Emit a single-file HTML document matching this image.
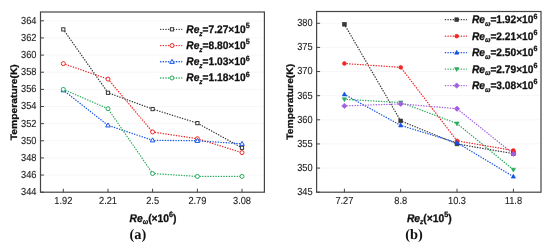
<!DOCTYPE html>
<html><head><meta charset="utf-8"><title>Temperature vs Re</title>
<style>
html,body{margin:0;padding:0;background:#fff;}
body{width:550px;height:251px;overflow:hidden;}
svg{display:block;}
text{text-rendering:geometricPrecision;}
.tk{font-family:"Liberation Sans",Arial,sans-serif;font-size:10.2px;fill:#1a1a1a;stroke:#1a1a1a;stroke-width:0.1px;}
.lg{font-family:"Liberation Sans",Arial,sans-serif;font-size:10.9px;font-weight:bold;fill:#111;stroke:#111;stroke-width:0.3px;}
.lb{font-family:"Liberation Sans",Arial,sans-serif;font-size:11.1px;font-weight:bold;fill:#111;stroke:#111;stroke-width:0.3px;}
.lby{font-family:"Liberation Sans",Arial,sans-serif;font-size:10.3px;font-weight:bold;fill:#111;stroke:#111;stroke-width:0.3px;}
.cap{font-family:"Liberation Serif","Times New Roman",serif;font-size:14.4px;font-weight:bold;fill:#111;}
</style></head>
<body>
<svg width="550" height="251" viewBox="0 0 550 251">
<rect width="550" height="251" fill="#fff"/>
<line x1="40.50" y1="175.06" x2="264.40" y2="175.06" stroke="#f5f5f5" stroke-width="0.8"/>
<line x1="40.50" y1="157.92" x2="264.40" y2="157.92" stroke="#f5f5f5" stroke-width="0.8"/>
<line x1="40.50" y1="140.78" x2="264.40" y2="140.78" stroke="#f5f5f5" stroke-width="0.8"/>
<line x1="40.50" y1="123.64" x2="264.40" y2="123.64" stroke="#f5f5f5" stroke-width="0.8"/>
<line x1="40.50" y1="106.50" x2="264.40" y2="106.50" stroke="#f5f5f5" stroke-width="0.8"/>
<line x1="40.50" y1="89.36" x2="264.40" y2="89.36" stroke="#f5f5f5" stroke-width="0.8"/>
<line x1="40.50" y1="72.22" x2="264.40" y2="72.22" stroke="#f5f5f5" stroke-width="0.8"/>
<line x1="40.50" y1="55.08" x2="264.40" y2="55.08" stroke="#f5f5f5" stroke-width="0.8"/>
<line x1="40.50" y1="37.94" x2="264.40" y2="37.94" stroke="#f5f5f5" stroke-width="0.8"/>
<line x1="40.50" y1="20.80" x2="264.40" y2="20.80" stroke="#f5f5f5" stroke-width="0.8"/>
<line x1="40.50" y1="192.20" x2="44.00" y2="192.20" stroke="#444444" stroke-width="1"/>
<text transform="translate(36.50,195.10) scale(0.91,1)" class="tk" text-anchor="end">344</text>
<line x1="40.50" y1="175.06" x2="44.00" y2="175.06" stroke="#444444" stroke-width="1"/>
<text transform="translate(36.50,177.96) scale(0.91,1)" class="tk" text-anchor="end">346</text>
<line x1="40.50" y1="157.92" x2="44.00" y2="157.92" stroke="#444444" stroke-width="1"/>
<text transform="translate(36.50,160.82) scale(0.91,1)" class="tk" text-anchor="end">348</text>
<line x1="40.50" y1="140.78" x2="44.00" y2="140.78" stroke="#444444" stroke-width="1"/>
<text transform="translate(36.50,143.68) scale(0.91,1)" class="tk" text-anchor="end">350</text>
<line x1="40.50" y1="123.64" x2="44.00" y2="123.64" stroke="#444444" stroke-width="1"/>
<text transform="translate(36.50,126.54) scale(0.91,1)" class="tk" text-anchor="end">352</text>
<line x1="40.50" y1="106.50" x2="44.00" y2="106.50" stroke="#444444" stroke-width="1"/>
<text transform="translate(36.50,109.40) scale(0.91,1)" class="tk" text-anchor="end">354</text>
<line x1="40.50" y1="89.36" x2="44.00" y2="89.36" stroke="#444444" stroke-width="1"/>
<text transform="translate(36.50,92.26) scale(0.91,1)" class="tk" text-anchor="end">356</text>
<line x1="40.50" y1="72.22" x2="44.00" y2="72.22" stroke="#444444" stroke-width="1"/>
<text transform="translate(36.50,75.12) scale(0.91,1)" class="tk" text-anchor="end">358</text>
<line x1="40.50" y1="55.08" x2="44.00" y2="55.08" stroke="#444444" stroke-width="1"/>
<text transform="translate(36.50,57.98) scale(0.91,1)" class="tk" text-anchor="end">360</text>
<line x1="40.50" y1="37.94" x2="44.00" y2="37.94" stroke="#444444" stroke-width="1"/>
<text transform="translate(36.50,40.84) scale(0.91,1)" class="tk" text-anchor="end">362</text>
<line x1="40.50" y1="20.80" x2="44.00" y2="20.80" stroke="#444444" stroke-width="1"/>
<text transform="translate(36.50,23.70) scale(0.91,1)" class="tk" text-anchor="end">364</text>
<line x1="63.30" y1="192.20" x2="63.30" y2="188.70" stroke="#444444" stroke-width="1"/>
<text transform="translate(63.30,203.6) scale(0.91,1)" class="tk" text-anchor="middle">1.92</text>
<line x1="108.00" y1="192.20" x2="108.00" y2="188.70" stroke="#444444" stroke-width="1"/>
<text transform="translate(108.00,203.6) scale(0.91,1)" class="tk" text-anchor="middle">2.21</text>
<line x1="152.60" y1="192.20" x2="152.60" y2="188.70" stroke="#444444" stroke-width="1"/>
<text transform="translate(152.60,203.6) scale(0.91,1)" class="tk" text-anchor="middle">2.5</text>
<line x1="197.40" y1="192.20" x2="197.40" y2="188.70" stroke="#444444" stroke-width="1"/>
<text transform="translate(197.40,203.6) scale(0.91,1)" class="tk" text-anchor="middle">2.79</text>
<line x1="242.00" y1="192.20" x2="242.00" y2="188.70" stroke="#444444" stroke-width="1"/>
<text transform="translate(242.00,203.6) scale(0.91,1)" class="tk" text-anchor="middle">3.08</text>
<polyline points="63.30,29.37 108.00,92.79 152.60,109.07 197.40,123.13 242.00,147.81" fill="none" stroke="#383838" stroke-width="1.3" stroke-linecap="round" stroke-dasharray="0.3 2.35"/>
<polyline points="63.30,63.65 108.00,79.08 152.60,131.95 197.40,138.72 242.00,152.61" fill="none" stroke="#f22525" stroke-width="1.3" stroke-linecap="round" stroke-dasharray="0.3 2.35"/>
<polyline points="63.30,90.22 108.00,125.35 152.60,140.27 197.40,140.78 242.00,143.78" fill="none" stroke="#1452e6" stroke-width="1.3" stroke-linecap="round" stroke-dasharray="0.3 2.35"/>
<polyline points="63.30,89.36 108.00,108.73 152.60,173.52 197.40,176.43 242.00,176.43" fill="none" stroke="#2aab5c" stroke-width="1.3" stroke-linecap="round" stroke-dasharray="0.3 2.35"/>
<rect x="61.70" y="27.77" width="3.20" height="3.20" fill="#fff" stroke="#383838" stroke-width="1.0"/>
<rect x="106.40" y="91.19" width="3.20" height="3.20" fill="#fff" stroke="#383838" stroke-width="1.0"/>
<rect x="151.00" y="107.47" width="3.20" height="3.20" fill="#fff" stroke="#383838" stroke-width="1.0"/>
<rect x="195.80" y="121.53" width="3.20" height="3.20" fill="#fff" stroke="#383838" stroke-width="1.0"/>
<rect x="240.40" y="146.21" width="3.20" height="3.20" fill="#fff" stroke="#383838" stroke-width="1.0"/>
<circle cx="63.30" cy="63.65" r="2.00" fill="#fff" stroke="#f22525" stroke-width="1.0"/>
<circle cx="108.00" cy="79.08" r="2.00" fill="#fff" stroke="#f22525" stroke-width="1.0"/>
<circle cx="152.60" cy="131.95" r="2.00" fill="#fff" stroke="#f22525" stroke-width="1.0"/>
<circle cx="197.40" cy="138.72" r="2.00" fill="#fff" stroke="#f22525" stroke-width="1.0"/>
<circle cx="242.00" cy="152.61" r="2.00" fill="#fff" stroke="#f22525" stroke-width="1.0"/>
<path d="M63.30,87.82L65.60,91.82L61.00,91.82Z" fill="#fff" stroke="#1452e6" stroke-width="1.0"/>
<path d="M108.00,122.95L110.30,126.95L105.70,126.95Z" fill="#fff" stroke="#1452e6" stroke-width="1.0"/>
<path d="M152.60,137.87L154.90,141.87L150.30,141.87Z" fill="#fff" stroke="#1452e6" stroke-width="1.0"/>
<path d="M197.40,138.38L199.70,142.38L195.10,142.38Z" fill="#fff" stroke="#1452e6" stroke-width="1.0"/>
<path d="M242.00,141.38L244.30,145.38L239.70,145.38Z" fill="#fff" stroke="#1452e6" stroke-width="1.0"/>
<circle cx="63.30" cy="89.36" r="2.00" fill="#fff" stroke="#2aab5c" stroke-width="1.0"/>
<circle cx="108.00" cy="108.73" r="2.00" fill="#fff" stroke="#2aab5c" stroke-width="1.0"/>
<circle cx="152.60" cy="173.52" r="2.00" fill="#fff" stroke="#2aab5c" stroke-width="1.0"/>
<circle cx="197.40" cy="176.43" r="2.00" fill="#fff" stroke="#2aab5c" stroke-width="1.0"/>
<circle cx="242.00" cy="176.43" r="2.00" fill="#fff" stroke="#2aab5c" stroke-width="1.0"/>
<rect x="40.50" y="12.00" width="223.90" height="180.20" fill="none" stroke="#444444" stroke-width="1.2"/>
<line x1="160.5" y1="29.30" x2="181.8" y2="29.30" stroke="#383838" stroke-width="1.3" stroke-linecap="round" stroke-dasharray="0.3 2.35"/>
<rect x="170.40" y="27.70" width="3.20" height="3.20" fill="#fff" stroke="#383838" stroke-width="1.0"/>
<text transform="translate(186.3,32.70) scale(0.935,1)" class="lg"><tspan font-style="italic">Re</tspan><tspan font-style="italic" font-size="7.0" dy="2.9">z</tspan><tspan dy="-2.9">=7.27×10</tspan><tspan font-size="7.6" dy="-4.6">5</tspan></text>
<line x1="160.5" y1="45.53" x2="181.8" y2="45.53" stroke="#f22525" stroke-width="1.3" stroke-linecap="round" stroke-dasharray="0.3 2.35"/>
<circle cx="172.00" cy="45.53" r="2.00" fill="#fff" stroke="#f22525" stroke-width="1.0"/>
<text transform="translate(186.3,48.93) scale(0.935,1)" class="lg"><tspan font-style="italic">Re</tspan><tspan font-style="italic" font-size="7.0" dy="2.9">z</tspan><tspan dy="-2.9">=8.80×10</tspan><tspan font-size="7.6" dy="-4.6">5</tspan></text>
<line x1="160.5" y1="61.76" x2="181.8" y2="61.76" stroke="#1452e6" stroke-width="1.3" stroke-linecap="round" stroke-dasharray="0.3 2.35"/>
<path d="M172.00,59.36L174.30,63.36L169.70,63.36Z" fill="#fff" stroke="#1452e6" stroke-width="1.0"/>
<text transform="translate(186.3,65.16) scale(0.935,1)" class="lg"><tspan font-style="italic">Re</tspan><tspan font-style="italic" font-size="7.0" dy="2.9">z</tspan><tspan dy="-2.9">=1.03×10</tspan><tspan font-size="7.6" dy="-4.6">6</tspan></text>
<line x1="160.5" y1="77.99" x2="181.8" y2="77.99" stroke="#2aab5c" stroke-width="1.3" stroke-linecap="round" stroke-dasharray="0.3 2.35"/>
<circle cx="172.00" cy="77.99" r="2.00" fill="#fff" stroke="#2aab5c" stroke-width="1.0"/>
<text transform="translate(186.3,81.39) scale(0.935,1)" class="lg"><tspan font-style="italic">Re</tspan><tspan font-style="italic" font-size="7.0" dy="2.9">z</tspan><tspan dy="-2.9">=1.18×10</tspan><tspan font-size="7.6" dy="-4.6">6</tspan></text>
<text transform="translate(16.9,102.2) scale(0.91,1) rotate(-90)" class="lby" text-anchor="middle">Temperature(K)</text>
<text transform="translate(129.5,221.8) scale(0.93,1)" class="lb"><tspan font-style="italic">Re</tspan><tspan font-style="italic" font-size="7.0" dy="2.5">ω</tspan><tspan dy="-2.5">(×10</tspan><tspan font-size="7.8" dy="-4.8">6</tspan><tspan dy="4.8">)</tspan></text>
<text x="137.8" y="239.4" class="cap" text-anchor="middle">(a)</text>
<line x1="316.60" y1="168.07" x2="541.00" y2="168.07" stroke="#f5f5f5" stroke-width="0.8"/>
<line x1="316.60" y1="143.94" x2="541.00" y2="143.94" stroke="#f5f5f5" stroke-width="0.8"/>
<line x1="316.60" y1="119.81" x2="541.00" y2="119.81" stroke="#f5f5f5" stroke-width="0.8"/>
<line x1="316.60" y1="95.68" x2="541.00" y2="95.68" stroke="#f5f5f5" stroke-width="0.8"/>
<line x1="316.60" y1="71.55" x2="541.00" y2="71.55" stroke="#f5f5f5" stroke-width="0.8"/>
<line x1="316.60" y1="47.42" x2="541.00" y2="47.42" stroke="#f5f5f5" stroke-width="0.8"/>
<line x1="316.60" y1="23.29" x2="541.00" y2="23.29" stroke="#f5f5f5" stroke-width="0.8"/>
<line x1="316.60" y1="192.20" x2="320.10" y2="192.20" stroke="#444444" stroke-width="1"/>
<text transform="translate(312.60,195.10) scale(0.91,1)" class="tk" text-anchor="end">345</text>
<line x1="316.60" y1="168.07" x2="320.10" y2="168.07" stroke="#444444" stroke-width="1"/>
<text transform="translate(312.60,170.97) scale(0.91,1)" class="tk" text-anchor="end">350</text>
<line x1="316.60" y1="143.94" x2="320.10" y2="143.94" stroke="#444444" stroke-width="1"/>
<text transform="translate(312.60,146.84) scale(0.91,1)" class="tk" text-anchor="end">355</text>
<line x1="316.60" y1="119.81" x2="320.10" y2="119.81" stroke="#444444" stroke-width="1"/>
<text transform="translate(312.60,122.71) scale(0.91,1)" class="tk" text-anchor="end">360</text>
<line x1="316.60" y1="95.68" x2="320.10" y2="95.68" stroke="#444444" stroke-width="1"/>
<text transform="translate(312.60,98.58) scale(0.91,1)" class="tk" text-anchor="end">365</text>
<line x1="316.60" y1="71.55" x2="320.10" y2="71.55" stroke="#444444" stroke-width="1"/>
<text transform="translate(312.60,74.45) scale(0.91,1)" class="tk" text-anchor="end">370</text>
<line x1="316.60" y1="47.42" x2="320.10" y2="47.42" stroke="#444444" stroke-width="1"/>
<text transform="translate(312.60,50.32) scale(0.91,1)" class="tk" text-anchor="end">375</text>
<line x1="316.60" y1="23.29" x2="320.10" y2="23.29" stroke="#444444" stroke-width="1"/>
<text transform="translate(312.60,26.19) scale(0.91,1)" class="tk" text-anchor="end">380</text>
<line x1="344.40" y1="192.20" x2="344.40" y2="188.70" stroke="#444444" stroke-width="1"/>
<text transform="translate(344.40,203.6) scale(0.91,1)" class="tk" text-anchor="middle">7.27</text>
<line x1="400.70" y1="192.20" x2="400.70" y2="188.70" stroke="#444444" stroke-width="1"/>
<text transform="translate(400.70,203.6) scale(0.91,1)" class="tk" text-anchor="middle">8.8</text>
<line x1="457.00" y1="192.20" x2="457.00" y2="188.70" stroke="#444444" stroke-width="1"/>
<text transform="translate(457.00,203.6) scale(0.91,1)" class="tk" text-anchor="middle">10.3</text>
<line x1="513.40" y1="192.20" x2="513.40" y2="188.70" stroke="#444444" stroke-width="1"/>
<text transform="translate(513.40,203.6) scale(0.91,1)" class="tk" text-anchor="middle">11.8</text>
<polyline points="344.40,24.26 400.70,120.92 457.00,143.94 513.40,153.59" fill="none" stroke="#383838" stroke-width="1.3" stroke-linecap="round" stroke-dasharray="0.3 2.35"/>
<polyline points="344.40,63.49 400.70,67.30 457.00,140.80 513.40,150.50" fill="none" stroke="#f22525" stroke-width="1.3" stroke-linecap="round" stroke-dasharray="0.3 2.35"/>
<polyline points="344.40,94.38 400.70,125.41 457.00,142.69 513.40,176.61" fill="none" stroke="#1452e6" stroke-width="1.3" stroke-linecap="round" stroke-dasharray="0.3 2.35"/>
<polyline points="344.40,99.30 400.70,102.48 457.00,123.48 513.40,169.71" fill="none" stroke="#2aab5c" stroke-width="1.3" stroke-linecap="round" stroke-dasharray="0.3 2.35"/>
<polyline points="344.40,105.91 400.70,103.88 457.00,108.71 513.40,153.88" fill="none" stroke="#a45ee0" stroke-width="1.3" stroke-linecap="round" stroke-dasharray="0.3 2.35"/>
<rect x="342.50" y="22.36" width="3.80" height="3.80" fill="#383838" stroke="#383838" stroke-width="0.6"/>
<rect x="398.80" y="119.02" width="3.80" height="3.80" fill="#383838" stroke="#383838" stroke-width="0.6"/>
<rect x="455.10" y="142.04" width="3.80" height="3.80" fill="#383838" stroke="#383838" stroke-width="0.6"/>
<rect x="511.50" y="151.69" width="3.80" height="3.80" fill="#383838" stroke="#383838" stroke-width="0.6"/>
<circle cx="344.40" cy="63.49" r="1.90" fill="#f22525" stroke="#f22525" stroke-width="0.6"/>
<circle cx="400.70" cy="67.30" r="1.90" fill="#f22525" stroke="#f22525" stroke-width="0.6"/>
<circle cx="457.00" cy="140.80" r="1.90" fill="#f22525" stroke="#f22525" stroke-width="0.6"/>
<circle cx="513.40" cy="150.50" r="1.90" fill="#f22525" stroke="#f22525" stroke-width="0.6"/>
<path d="M344.40,91.98L346.55,95.88L342.25,95.88Z" fill="#1452e6" stroke="#1452e6" stroke-width="0.6"/>
<path d="M400.70,123.01L402.85,126.91L398.55,126.91Z" fill="#1452e6" stroke="#1452e6" stroke-width="0.6"/>
<path d="M457.00,140.29L459.15,144.19L454.85,144.19Z" fill="#1452e6" stroke="#1452e6" stroke-width="0.6"/>
<path d="M513.40,174.21L515.55,178.11L511.25,178.11Z" fill="#1452e6" stroke="#1452e6" stroke-width="0.6"/>
<path d="M344.40,101.70L346.55,97.80L342.25,97.80Z" fill="#2aab5c" stroke="#2aab5c" stroke-width="0.6"/>
<path d="M400.70,104.88L402.85,100.98L398.55,100.98Z" fill="#2aab5c" stroke="#2aab5c" stroke-width="0.6"/>
<path d="M457.00,125.88L459.15,121.98L454.85,121.98Z" fill="#2aab5c" stroke="#2aab5c" stroke-width="0.6"/>
<path d="M513.40,172.11L515.55,168.21L511.25,168.21Z" fill="#2aab5c" stroke="#2aab5c" stroke-width="0.6"/>
<path d="M344.40,103.21L347.10,105.91L344.40,108.61L341.70,105.91Z" fill="#a45ee0" stroke="#a45ee0" stroke-width="0.6"/>
<path d="M400.70,101.18L403.40,103.88L400.70,106.58L398.00,103.88Z" fill="#a45ee0" stroke="#a45ee0" stroke-width="0.6"/>
<path d="M457.00,106.01L459.70,108.71L457.00,111.41L454.30,108.71Z" fill="#a45ee0" stroke="#a45ee0" stroke-width="0.6"/>
<path d="M513.40,151.18L516.10,153.88L513.40,156.58L510.70,153.88Z" fill="#a45ee0" stroke="#a45ee0" stroke-width="0.6"/>
<rect x="316.60" y="11.50" width="224.40" height="180.70" fill="none" stroke="#444444" stroke-width="1.2"/>
<line x1="445.3" y1="19.70" x2="466.5" y2="19.70" stroke="#383838" stroke-width="1.3" stroke-linecap="round" stroke-dasharray="0.3 2.35"/>
<rect x="454.80" y="17.80" width="3.80" height="3.80" fill="#383838" stroke="#383838" stroke-width="0.6"/>
<text transform="translate(471.9,23.10) scale(0.935,1)" class="lg"><tspan font-style="italic">Re</tspan><tspan font-style="italic" font-size="7.0" dy="2.9">ω</tspan><tspan dy="-2.9">=1.92×10</tspan><tspan font-size="7.6" dy="-4.6">6</tspan></text>
<line x1="445.3" y1="36.17" x2="466.5" y2="36.17" stroke="#f22525" stroke-width="1.3" stroke-linecap="round" stroke-dasharray="0.3 2.35"/>
<circle cx="456.70" cy="36.17" r="1.90" fill="#f22525" stroke="#f22525" stroke-width="0.6"/>
<text transform="translate(471.9,39.57) scale(0.935,1)" class="lg"><tspan font-style="italic">Re</tspan><tspan font-style="italic" font-size="7.0" dy="2.9">ω</tspan><tspan dy="-2.9">=2.21×10</tspan><tspan font-size="7.6" dy="-4.6">6</tspan></text>
<line x1="445.3" y1="52.64" x2="466.5" y2="52.64" stroke="#1452e6" stroke-width="1.3" stroke-linecap="round" stroke-dasharray="0.3 2.35"/>
<path d="M456.70,50.24L458.85,54.14L454.55,54.14Z" fill="#1452e6" stroke="#1452e6" stroke-width="0.6"/>
<text transform="translate(471.9,56.04) scale(0.935,1)" class="lg"><tspan font-style="italic">Re</tspan><tspan font-style="italic" font-size="7.0" dy="2.9">ω</tspan><tspan dy="-2.9">=2.50×10</tspan><tspan font-size="7.6" dy="-4.6">6</tspan></text>
<line x1="445.3" y1="69.11" x2="466.5" y2="69.11" stroke="#2aab5c" stroke-width="1.3" stroke-linecap="round" stroke-dasharray="0.3 2.35"/>
<path d="M456.70,71.51L458.85,67.61L454.55,67.61Z" fill="#2aab5c" stroke="#2aab5c" stroke-width="0.6"/>
<text transform="translate(471.9,72.51) scale(0.935,1)" class="lg"><tspan font-style="italic">Re</tspan><tspan font-style="italic" font-size="7.0" dy="2.9">ω</tspan><tspan dy="-2.9">=2.79×10</tspan><tspan font-size="7.6" dy="-4.6">6</tspan></text>
<line x1="445.3" y1="85.58" x2="466.5" y2="85.58" stroke="#a45ee0" stroke-width="1.3" stroke-linecap="round" stroke-dasharray="0.3 2.35"/>
<path d="M456.70,82.88L459.40,85.58L456.70,88.28L454.00,85.58Z" fill="#a45ee0" stroke="#a45ee0" stroke-width="0.6"/>
<text transform="translate(471.9,88.98) scale(0.935,1)" class="lg"><tspan font-style="italic">Re</tspan><tspan font-style="italic" font-size="7.0" dy="2.9">ω</tspan><tspan dy="-2.9">=3.08×10</tspan><tspan font-size="7.6" dy="-4.6">6</tspan></text>
<text transform="translate(292.9,101.8) scale(0.91,1) rotate(-90)" class="lby" text-anchor="middle">Temperature(K)</text>
<text transform="translate(406.9,221.8) scale(0.93,1)" class="lb"><tspan font-style="italic">Re</tspan><tspan font-style="italic" font-size="7.0" dy="2.5">z</tspan><tspan dy="-2.5">(×10</tspan><tspan font-size="7.8" dy="-4.8">5</tspan><tspan dy="4.8">)</tspan></text>
<text x="414.0" y="239.1" class="cap" text-anchor="middle">(b)</text>
</svg>
</body></html>
